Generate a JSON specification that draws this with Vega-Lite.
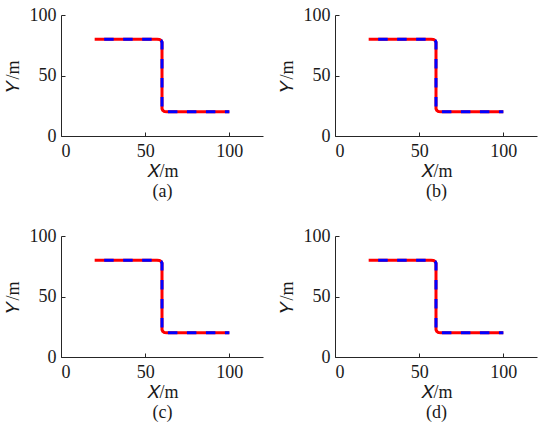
{
  "$schema": "https://vega.github.io/schema/vega-lite/v6.json",
  "background": "white",
  "padding": {"left": 4, "top": 6, "right": 5, "bottom": 5},
  "bounds": "flush",
  "datasets": {
    "track": [
      {"i": 1, "x": 20, "y": 80},
      {"i": 2, "x": 57, "y": 80},
      {"i": 3, "x": 58.6, "y": 79.7},
      {"i": 4, "x": 59.5, "y": 78.9},
      {"i": 5, "x": 60, "y": 77.5},
      {"i": 6, "x": 60, "y": 22.5},
      {"i": 7, "x": 60.5, "y": 21.1},
      {"i": 8, "x": 61.4, "y": 20.3},
      {"i": 9, "x": 63, "y": 20},
      {"i": 10, "x": 100, "y": 20}
    ]
  },
  "config": {
    "view": {"stroke": null},
    "axis": {
      "grid": false,
      "domainColor": "#262626",
      "tickColor": "#262626",
      "labelColor": "#1a1a1a",
      "titleColor": "#1a1a1a",
      "labelFont": "Liberation Serif",
      "titleFont": "Liberation Serif",
      "labelFontSize": 18,
      "titleFontSize": 18,
      "titleFontWeight": "normal",
      "tickSize": -4
    }
  },
  "columns": 2,
  "spacing": {"row": 100, "column": 72},
  "concat": [
    {
      "width": 202, "height": 121,
      "data": {"name": "track"},
      "encoding": {
        "x": {"field": "x", "type": "quantitative", "scale": {"domain": [0, 120], "nice": false}, "axis": {"title": ["𝑋/m", "(a)"], "values": [0, 50, 100], "labelPadding": 10, "titlePadding": 2}},
        "y": {"field": "y", "type": "quantitative", "scale": {"domain": [0, 100], "nice": false}, "axis": {"title": "𝑌/m", "values": [0, 50, 100], "labelPadding": 9, "titlePadding": 7}},
        "order": {"field": "i"}
      },
      "layer": [
        {"mark": {"type": "line", "color": "#ff0000", "strokeWidth": 3, "strokeJoin": "round"}},
        {"mark": {"type": "line", "color": "#0000ff", "strokeWidth": 3, "strokeDash": [9.5, 9.5], "strokeDashOffset": 9.5}}
      ]
    },
    {
      "width": 202, "height": 121,
      "data": {"name": "track"},
      "encoding": {
        "x": {"field": "x", "type": "quantitative", "scale": {"domain": [0, 120], "nice": false}, "axis": {"title": ["𝑋/m", "(b)"], "values": [0, 50, 100], "labelPadding": 10, "titlePadding": 2}},
        "y": {"field": "y", "type": "quantitative", "scale": {"domain": [0, 100], "nice": false}, "axis": {"title": "𝑌/m", "values": [0, 50, 100], "labelPadding": 9, "titlePadding": 7}},
        "order": {"field": "i"}
      },
      "layer": [
        {"mark": {"type": "line", "color": "#ff0000", "strokeWidth": 3, "strokeJoin": "round"}},
        {"mark": {"type": "line", "color": "#0000ff", "strokeWidth": 3, "strokeDash": [9.5, 9.5], "strokeDashOffset": 9.5}}
      ]
    },
    {
      "width": 202, "height": 121,
      "data": {"name": "track"},
      "encoding": {
        "x": {"field": "x", "type": "quantitative", "scale": {"domain": [0, 120], "nice": false}, "axis": {"title": ["𝑋/m", "(c)"], "values": [0, 50, 100], "labelPadding": 10, "titlePadding": 2}},
        "y": {"field": "y", "type": "quantitative", "scale": {"domain": [0, 100], "nice": false}, "axis": {"title": "𝑌/m", "values": [0, 50, 100], "labelPadding": 9, "titlePadding": 7}},
        "order": {"field": "i"}
      },
      "layer": [
        {"mark": {"type": "line", "color": "#ff0000", "strokeWidth": 3, "strokeJoin": "round"}},
        {"mark": {"type": "line", "color": "#0000ff", "strokeWidth": 3, "strokeDash": [9.5, 9.5], "strokeDashOffset": 9.5}}
      ]
    },
    {
      "width": 202, "height": 121,
      "data": {"name": "track"},
      "encoding": {
        "x": {"field": "x", "type": "quantitative", "scale": {"domain": [0, 120], "nice": false}, "axis": {"title": ["𝑋/m", "(d)"], "values": [0, 50, 100], "labelPadding": 10, "titlePadding": 2}},
        "y": {"field": "y", "type": "quantitative", "scale": {"domain": [0, 100], "nice": false}, "axis": {"title": "𝑌/m", "values": [0, 50, 100], "labelPadding": 9, "titlePadding": 7}},
        "order": {"field": "i"}
      },
      "layer": [
        {"mark": {"type": "line", "color": "#ff0000", "strokeWidth": 3, "strokeJoin": "round"}},
        {"mark": {"type": "line", "color": "#0000ff", "strokeWidth": 3, "strokeDash": [9.5, 9.5], "strokeDashOffset": 9.5}}
      ]
    }
  ]
}
